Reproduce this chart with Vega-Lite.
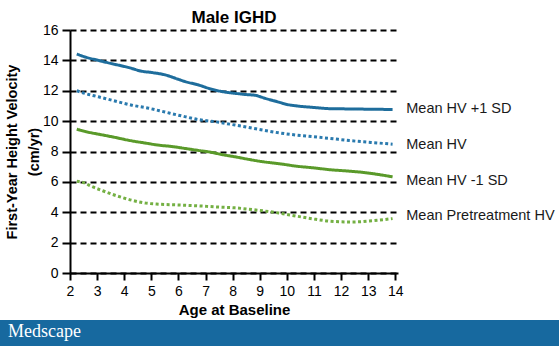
{
  "$schema": "https://vega.github.io/schema/vega-lite/v6.json",
  "width": 328,
  "height": 243,
  "autosize": {"type": "none"},
  "padding": {"left": 70, "top": 30, "right": 161, "bottom": 73},
  "background": "white",
  "title": {"text": "Male IGHD", "fontSize": 17, "fontWeight": "bold", "font": "Liberation Sans", "color": "black", "anchor": "middle", "offset": -4},
  "config": {
    "view": {"stroke": null},
    "font": "Liberation Sans",
    "axis": {"labelFont": "Liberation Sans", "titleFont": "Liberation Sans", "labelColor": "black", "titleColor": "black", "domainColor": "black", "tickColor": "black"}
  },
  "datasets": {
    "lines": [
      {"series": "Mean HV +1 SD", "age": 2.25, "value": 14.42},
      {"series": "Mean HV +1 SD", "age": 2.6, "value": 14.2},
      {"series": "Mean HV +1 SD", "age": 3.05, "value": 14.0},
      {"series": "Mean HV +1 SD", "age": 3.5, "value": 13.8},
      {"series": "Mean HV +1 SD", "age": 4.0, "value": 13.6},
      {"series": "Mean HV +1 SD", "age": 4.28, "value": 13.47},
      {"series": "Mean HV +1 SD", "age": 4.6, "value": 13.3},
      {"series": "Mean HV +1 SD", "age": 5.02, "value": 13.2},
      {"series": "Mean HV +1 SD", "age": 5.5, "value": 13.05},
      {"series": "Mean HV +1 SD", "age": 6.0, "value": 12.75},
      {"series": "Mean HV +1 SD", "age": 6.25, "value": 12.6},
      {"series": "Mean HV +1 SD", "age": 6.7, "value": 12.4},
      {"series": "Mean HV +1 SD", "age": 7.23, "value": 12.1},
      {"series": "Mean HV +1 SD", "age": 7.6, "value": 11.95},
      {"series": "Mean HV +1 SD", "age": 8.09, "value": 11.83},
      {"series": "Mean HV +1 SD", "age": 8.5, "value": 11.75},
      {"series": "Mean HV +1 SD", "age": 8.83, "value": 11.7},
      {"series": "Mean HV +1 SD", "age": 9.2, "value": 11.5},
      {"series": "Mean HV +1 SD", "age": 9.7, "value": 11.25},
      {"series": "Mean HV +1 SD", "age": 10.0, "value": 11.1},
      {"series": "Mean HV +1 SD", "age": 10.37, "value": 11.0},
      {"series": "Mean HV +1 SD", "age": 11.0, "value": 10.9},
      {"series": "Mean HV +1 SD", "age": 11.6, "value": 10.82},
      {"series": "Mean HV +1 SD", "age": 12.5, "value": 10.8},
      {"series": "Mean HV +1 SD", "age": 13.2, "value": 10.78},
      {"series": "Mean HV +1 SD", "age": 13.9, "value": 10.77},
      {"series": "Mean HV", "age": 2.25, "value": 12.0},
      {"series": "Mean HV", "age": 2.6, "value": 11.8},
      {"series": "Mean HV", "age": 3.05, "value": 11.6},
      {"series": "Mean HV", "age": 3.6, "value": 11.35},
      {"series": "Mean HV", "age": 4.28, "value": 11.05},
      {"series": "Mean HV", "age": 4.9, "value": 10.85},
      {"series": "Mean HV", "age": 5.5, "value": 10.6},
      {"series": "Mean HV", "age": 6.1, "value": 10.35},
      {"series": "Mean HV", "age": 6.74, "value": 10.1},
      {"series": "Mean HV", "age": 7.4, "value": 9.95},
      {"series": "Mean HV", "age": 8.09, "value": 9.74},
      {"series": "Mean HV", "age": 8.6, "value": 9.58},
      {"series": "Mean HV", "age": 9.14, "value": 9.4},
      {"series": "Mean HV", "age": 9.7, "value": 9.23},
      {"series": "Mean HV", "age": 10.37, "value": 9.08},
      {"series": "Mean HV", "age": 11.0, "value": 8.97},
      {"series": "Mean HV", "age": 11.6, "value": 8.86},
      {"series": "Mean HV", "age": 12.3, "value": 8.72},
      {"series": "Mean HV", "age": 13.1, "value": 8.6},
      {"series": "Mean HV", "age": 13.9, "value": 8.48},
      {"series": "Mean HV -1 SD", "age": 2.25, "value": 9.47},
      {"series": "Mean HV -1 SD", "age": 2.6, "value": 9.3},
      {"series": "Mean HV -1 SD", "age": 3.05, "value": 9.14},
      {"series": "Mean HV -1 SD", "age": 3.6, "value": 8.95},
      {"series": "Mean HV -1 SD", "age": 4.28, "value": 8.7},
      {"series": "Mean HV -1 SD", "age": 4.8, "value": 8.55},
      {"series": "Mean HV -1 SD", "age": 5.26, "value": 8.42},
      {"series": "Mean HV -1 SD", "age": 5.8, "value": 8.32},
      {"series": "Mean HV -1 SD", "age": 6.25, "value": 8.2},
      {"series": "Mean HV -1 SD", "age": 6.7, "value": 8.08},
      {"series": "Mean HV -1 SD", "age": 7.23, "value": 7.94},
      {"series": "Mean HV -1 SD", "age": 7.6, "value": 7.8},
      {"series": "Mean HV -1 SD", "age": 8.09, "value": 7.65},
      {"series": "Mean HV -1 SD", "age": 8.6, "value": 7.48},
      {"series": "Mean HV -1 SD", "age": 9.14, "value": 7.32},
      {"series": "Mean HV -1 SD", "age": 9.7, "value": 7.2},
      {"series": "Mean HV -1 SD", "age": 10.37, "value": 7.03},
      {"series": "Mean HV -1 SD", "age": 11.0, "value": 6.92},
      {"series": "Mean HV -1 SD", "age": 11.6, "value": 6.8},
      {"series": "Mean HV -1 SD", "age": 12.2, "value": 6.72},
      {"series": "Mean HV -1 SD", "age": 12.83, "value": 6.62},
      {"series": "Mean HV -1 SD", "age": 13.4, "value": 6.48},
      {"series": "Mean HV -1 SD", "age": 13.9, "value": 6.33},
      {"series": "Mean Pretreatment HV", "age": 2.25, "value": 6.04},
      {"series": "Mean Pretreatment HV", "age": 2.5, "value": 5.95},
      {"series": "Mean Pretreatment HV", "age": 2.8, "value": 5.7},
      {"series": "Mean Pretreatment HV", "age": 3.2, "value": 5.42},
      {"series": "Mean Pretreatment HV", "age": 3.66, "value": 5.12},
      {"series": "Mean Pretreatment HV", "age": 4.28, "value": 4.79},
      {"series": "Mean Pretreatment HV", "age": 4.8, "value": 4.6},
      {"series": "Mean Pretreatment HV", "age": 5.26, "value": 4.53},
      {"series": "Mean Pretreatment HV", "age": 6.0, "value": 4.48},
      {"series": "Mean Pretreatment HV", "age": 6.74, "value": 4.42},
      {"series": "Mean Pretreatment HV", "age": 7.4, "value": 4.35},
      {"series": "Mean Pretreatment HV", "age": 8.09, "value": 4.29},
      {"series": "Mean Pretreatment HV", "age": 8.6, "value": 4.2},
      {"series": "Mean Pretreatment HV", "age": 9.14, "value": 4.09},
      {"series": "Mean Pretreatment HV", "age": 9.7, "value": 3.95},
      {"series": "Mean Pretreatment HV", "age": 10.37, "value": 3.74},
      {"series": "Mean Pretreatment HV", "age": 11.0, "value": 3.55},
      {"series": "Mean Pretreatment HV", "age": 11.6, "value": 3.41},
      {"series": "Mean Pretreatment HV", "age": 12.0, "value": 3.37},
      {"series": "Mean Pretreatment HV", "age": 12.46, "value": 3.36},
      {"series": "Mean Pretreatment HV", "age": 13.2, "value": 3.45},
      {"series": "Mean Pretreatment HV", "age": 13.9, "value": 3.58}
    ],
    "labels": [
      {"label": "Mean HV +1 SD", "age": 14, "value": 10.77},
      {"label": "Mean HV", "age": 14, "value": 8.42},
      {"label": "Mean HV -1 SD", "age": 14, "value": 6.06},
      {"label": "Mean Pretreatment HV", "age": 14, "value": 3.74}
    ],
    "banner": [{"brand": "Medscape"}]
  },
  "layer": [
    {
      "encoding": {
        "x": {"field": "age", "type": "quantitative", "scale": {"domain": [2, 14.1], "nice": false, "zero": false},
          "axis": {"values": [2,3,4,5,6,7,8,9,10,11,12,13,14], "labelOverlap": false, "title": "Age at Baseline", "titleFontSize": 15, "titleFontWeight": "bold", "titlePadding": 4, "labelFontSize": 14, "labelPadding": 4, "tickSize": 7, "tickWidth": 2, "domainWidth": 2, "grid": false, "labelFlush": false}},
        "y": {"field": "value", "type": "quantitative", "scale": {"domain": [0, 16], "nice": false},
          "axis": {"values": [0,2,4,6,8,10,12,14,16], "labelOverlap": false, "title": ["First-Year Height Velocity", "(cm/yr)"], "titleFontSize": 14.5, "titleFontWeight": "bold", "titleLineHeight": 22, "titlePadding": 1, "labelFontSize": 14, "labelPadding": 4, "tickSize": 8, "tickWidth": 2, "domainWidth": 2, "grid": true, "gridColor": "black", "gridWidth": 1.9, "gridDash": [6, 4], "gridOpacity": 1, "labelFlush": false}}
      },
      "layer": [
        {
          "data": {"name": "lines"},
          "mark": {"type": "line", "strokeWidth": 3, "strokeCap": "butt", "interpolate": "monotone"},
          "encoding": {
            "color": {"field": "series", "type": "nominal", "legend": null,
              "scale": {"domain": ["Mean HV +1 SD", "Mean HV", "Mean HV -1 SD", "Mean Pretreatment HV"], "range": ["#1e6d9c", "#2a7aae", "#5a9a2a", "#74b043"]}},
            "strokeDash": {"field": "series", "type": "nominal", "legend": null,
              "scale": {"domain": ["Mean HV +1 SD", "Mean HV", "Mean HV -1 SD", "Mean Pretreatment HV"], "range": [[1, 0], [3, 2.5], [1, 0], [3, 2.5]]}},
            "detail": {"field": "series"}
          }
        },
        {
          "data": {"name": "labels"},
          "mark": {"type": "text", "align": "left", "baseline": "middle", "dx": 11, "fontSize": 14.5, "font": "Liberation Sans", "color": "#1a1a1a"},
          "encoding": {
            "text": {"field": "label"}
          }
        }
      ]
    },
    {
      "data": {"name": "banner"},
      "mark": {"type": "rect", "color": "#17699f"},
      "encoding": {
        "x": {"value": -70}, "x2": {"value": 489},
        "y": {"value": 290}, "y2": {"value": 316}
      }
    },
    {
      "data": {"name": "banner"},
      "mark": {"type": "text", "align": "left", "baseline": "alphabetic", "font": "Liberation Serif", "fontSize": 18, "color": "white"},
      "encoding": {
        "x": {"value": -62}, "y": {"value": 306.5},
        "text": {"field": "brand"}
      }
    }
  ]
}
